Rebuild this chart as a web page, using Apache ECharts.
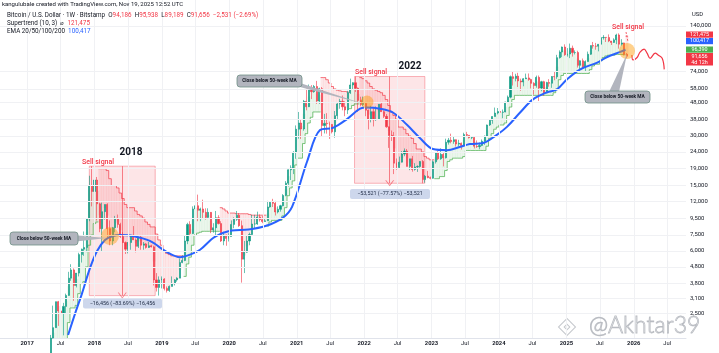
<!DOCTYPE html>
<html><head><meta charset="utf-8">
<script src="https://cdn.jsdelivr.net/npm/echarts@6/dist/echarts.min.js"></script>
<style>html,body{margin:0;padding:0;background:#fff}#c{width:719px;height:353px}</style>
</head><body><div id="c"></div>
<script>
// ---- DATA (biweekly bins, Bitstamp BTC/USD) ----
const binStart = '2017-04-03';
const binDays = 14;
const firstOpen = 1090;
const closes = [
1180,1350,1770,2050,2950,2590,2510,2760,3220,4100,4600,3700,4400,5700,6150,6300,9400,15000,13800,16200,
11600,8200,10400,11500,8200,6900,8300,9400,8700,7350,6750,6150,6750,7400,7000,6400,7300,6500,6620,6300,6450,6350,4000,3600,4000,4050,
3550,3450,3650,3800,4000,4100,5100,5250,6900,8700,7650,10800,11300,10600,10800,10300,9600,10300,8050,8300,9550,8800,6900,7500,7150,7350,
8700,9350,9900,8550,5350,5900,6900,7550,8750,8750,9650,9300,9050,9150,11100,11850,11700,10350,10750,11300,13050,15500,18700,19200,23850,33000,
36000,33100,48800,45200,59000,55800,60000,49000,58200,34700,35800,35600,35300,31800,39900,47000,48800,45200,43200,55000,61300,63300,58600,49400,46700,47300,
43100,37900,42200,37700,37800,46800,42200,39500,34100,30300,29900,20500,19300,20800,23300,24300,19600,21800,18800,19450,19550,21000,16300,17100,16750,16600,
20900,23700,21800,23200,22100,27500,28300,27800,28500,26800,27100,26300,30600,30300,29300,29400,26000,25850,26300,27900,29900,35000,37400,39400,41400,42300,
41800,42000,48300,51700,68900,67200,69400,64900,63900,66900,67700,66200,62700,60800,68200,58700,64200,54800,63400,62800,69000,68700,89900,97200,104300,93700,
94500,102600,96500,96600,80700,86100,78300,85100,94300,106400,105700,105500,108400,119000,119400,119300,113500,111200,115300,123500,108600,110500,94186,91656];
const highs = [
1250,1350,1850,2790,2950,2980,2700,2900,3300,4480,4980,4700,4400,5850,6200,7880,9500,17200,19666,17200,
16900,11800,11800,11500,11700,9200,8400,9800,9990,8900,7800,6850,6800,7500,8500,7150,7300,7400,6800,6700,6800,6550,6450,4400,4200,4200,
4100,3650,3700,4200,4050,4150,5400,5650,7500,8900,9100,11200,13800,13200,11000,12300,10900,10900,10350,8850,10500,9900,9100,7850,7550,7700,
9200,9600,10500,10200,9180,6900,7450,7750,9950,9950,10400,10000,9800,9450,12100,12000,12450,12100,11200,11450,13300,15950,18800,19900,24250,34800,
42000,38000,49700,58300,61700,61200,61300,64900,59000,59500,40900,41300,36700,35100,42600,48100,50500,52900,48800,56500,67000,63700,69000,59200,52000,52100,
47500,43500,45800,44800,45400,46900,48200,42900,40800,34200,32400,31700,21900,22500,24300,25200,25000,21800,22700,20500,19900,21100,21400,17400,18400,17000,
21300,23900,24250,25250,23900,28900,29200,31000,30000,28200,28450,27400,31400,31800,30300,30000,29700,28200,27400,28600,30200,35200,38000,39500,44700,44400,
48900,43500,48500,52900,70000,73800,71700,72700,67000,67500,71900,72000,66900,63800,69900,70000,65000,65000,64100,66500,69400,73600,93500,99600,105000,108300,
102700,109500,106400,99500,99000,86500,88800,86500,97900,106700,112000,110500,108900,119500,123200,120000,124500,113500,117900,125600,126300,116400,110800,95938];
const lows = [
1080,1170,1340,1760,2050,2100,2400,1840,2510,3200,3950,2980,3600,4200,5100,5600,5900,9100,11200,12000,
9200,7800,6000,9300,7300,6500,6500,7800,8300,7200,6700,5750,5800,6100,7000,5880,6250,6100,6100,6200,6250,6300,3700,3400,3210,3550,
3450,3350,3380,3650,3700,3900,4100,5050,5200,6600,7450,7600,9800,9100,9100,9500,9300,9550,7700,7750,7300,8700,6800,6500,6450,6850,
7350,8250,9150,8400,3850,4400,5850,6500,7500,8200,8650,9050,8850,9050,9150,11000,11100,9850,10150,10400,11200,12900,14800,16200,17600,21800,
28900,28800,32300,43000,45000,50300,55000,47000,47000,30000,31100,31000,28800,31100,29300,37500,43950,43000,39600,40800,54000,58000,55600,42000,45500,45700,
39600,32900,36300,34300,37100,37700,42100,38600,33700,25400,28000,17600,18700,18900,20700,22600,19600,18600,18200,18500,18150,19250,15479,15600,16600,16350,
16500,20400,21400,21500,19600,21900,26600,27100,26900,25900,25900,24800,26200,29700,29000,28700,25200,25400,24900,26000,26500,29800,34500,35600,39400,40600,
40700,38500,41800,48200,50900,60800,64500,59600,56500,60200,66600,65000,58400,53500,59000,49000,56100,52600,54600,59800,58900,65500,66800,88700,90500,92200,
91200,89300,91200,94000,78200,76600,77100,74500,85100,93400,102000,100400,98200,105200,115700,111900,111700,107300,110600,108600,102000,106300,93000,89189];
const supertrend = [
900,950,1000,1150,1500,1600,1700,1700,1750,2200,2700,2700,2800,3300,3800,3900,4800,6500,7500,8800,
9000,19000,19000,19000,18500,16500,15000,15000,14500,13500,12500,11500,11000,11000,11000,10500,10000,9800,9500,9000,8700,8400,8400,7600,7000,6500,
6000,5800,5700,5600,5600,5600,5600,5600,4200,5000,5500,6500,7500,7700,7800,7900,7900,7900,7900,7900,7900,7900,11000,10800,10500,10200,
10200,10200,10100,10100,10100,10100,10100,10000,9900,9900,9900,9900,9900,9900,8500,9000,9200,9200,9200,9200,9800,11000,13000,14500,16000,20000,
22000,22000,27000,31000,36000,39000,42000,42000,42000,68000,68000,66000,63000,60000,58000,57000,56500,56000,56000,55500,44000,46000,47000,47000,68000,67000,
65000,63000,60000,58000,57000,56000,55000,53000,50000,46000,42000,40000,38000,34000,34000,33000,31000,30000,29000,27000,25000,25000,24000,22500,22000,21500,
21500,16500,16500,17000,17000,18500,21000,21500,22000,22000,22000,22000,22500,24500,24500,24500,24500,24500,24500,24500,24500,26000,29000,31000,33000,34000,
35000,35000,36000,40000,45000,50000,53000,53000,53000,53000,53000,53000,53000,53000,53000,53000,53000,53000,53000,53000,53000,55000,58000,66000,70000,72000,
72000,72000,72000,72000,72000,72000,72000,72000,72000,76000,80000,82000,82000,86000,90000,92000,93000,93000,93000,94000,94000,94000,93500,121475];
const emaDates = ['2017-08-11','2017-09-18','2017-10-25','2017-12-07','2018-01-15','2018-02-27','2018-04-11','2018-05-19','2018-07-28','2018-10-28',
'2019-01-29','2019-04-10','2019-06-03','2019-07-27','2019-10-15','2020-01-15','2020-04-15','2020-07-15','2020-10-15','2020-12-07',
'2021-02-26','2021-05-07','2021-07-16','2021-09-30','2021-12-10','2022-01-17','2022-03-28','2022-06-06','2022-08-21','2022-10-30',
'2023-01-09','2023-03-26','2023-06-03','2023-07-28','2023-10-07','2023-12-21','2024-02-14','2024-04-25','2024-07-04','2024-09-18',
'2024-11-11','2025-01-05','2025-03-17','2025-06-17','2025-08-10','2025-10-20','2025-11-17'];
const emaValues = [1850,2500,3300,4700,6000,7000,7400,7500,7400,6900,
5900,5500,5700,6100,7300,8000,8100,8500,9500,11170,
21000,32600,33650,38000,44000,44700,44000,41700,35100,29200,
25000,24600,25700,26800,27200,30500,34100,41700,50100,55300,
57700,66500,76400,83900,90700,97400,100417];
const projDates = ['2025-12-22','2025-12-28','2026-01-19','2026-02-04','2026-02-26','2026-03-14','2026-03-31','2026-04-27','2026-05-13','2026-06-04','2026-06-15'];
const projPrices = [93300,87000,90100,97100,101300,95800,89000,95800,93300,89000,76300];
const priceTicks = [2500,3100,3800,4800,6000,7500,9500,12000,15000,19000,24000,30000,38000,48000,58000,74000,140000];
const timeTicks = ['2017-01-01','2017-07-01','2018-01-01','2018-07-01','2019-01-01','2019-07-01','2020-01-01','2020-07-01','2021-01-01','2021-07-01',
'2022-01-01','2022-07-01','2023-01-01','2023-07-01','2024-01-01','2024-07-01','2025-01-01','2025-07-01','2026-01-01','2026-07-01'];
const ranges = [
  {from:'2017-12-04', to:'2018-11-26', top:19666, bottom:3210, label:'\u221216,456 (\u221283.69%) \u221216,456'},
  {from:'2021-11-10', to:'2022-11-26', top:69000, bottom:15479, label:'\u221253,521 (\u221277.57%) \u221253,521'}
];

// ---- BUILD ----
const DAY = 86400000;
const t0s = closes.map((_, i) => Date.parse(binStart) + i * binDays * DAY);
const opens = closes.map((c, i) => i === 0 ? firstOpen : closes[i - 1]);
const candleData = closes.map((c, i) => [t0s[i] + 7 * DAY, opens[i], c, lows[i], highs[i]]);
const stData = supertrend.map((s, i) => {
  const up = s < closes[i] ? 1 : 0;
  let prev = -1;
  if (i > 0) { const pu = supertrend[i - 1] < closes[i - 1] ? 1 : 0; if (pu === up) prev = supertrend[i - 1]; }
  return [t0s[i], t0s[i] + binDays * DAY, s, (opens[i] + closes[i]) / 2, up, prev];
});
const emaData = emaDates.map((d, i) => [Date.parse(d), emaValues[i]]);
const projData = projDates.map((d, i) => [Date.parse(d), projPrices[i]]);
const fmt = v => Math.round(v).toLocaleString('en-US');
const FONT = 'Roboto';
const chevron = 'path://M0,10L5,0L10,10L8.8,10L5,2.4L1.2,10Z';

const chart = echarts.init(document.getElementById('c'), null, {renderer:'canvas'});

const graphics = [];
function T(x, y, text, o) { graphics.push({type:'text', x, y, z:100, silent:true, style:Object.assign({text, fontFamily:FONT, fontSize:6, fill:'#131722', verticalAlign:'middle', align:'left'}, o || {})}); }
function R(x, y, w, h, fill, o) { graphics.push({type:'rect', z:99, silent:true, shape:{x, y, width:w, height:h, r:(o&&o.r)||0}, style:Object.assign({fill}, (o&&o.style)||{})}); }
function PG(points, fill, z) { graphics.push({type:'polygon', z:z||98, silent:true, shape:{points}, style:{fill}}); }
function C(cx, cy, r, fill) { graphics.push({type:'circle', z:97, silent:true, shape:{cx, cy, r}, style:{fill}}); }

// header
const HF = 6.3;
T(2, 4, 'kangulubale created with TradingView.com, Nov 19, 2025 12:52 UTC', {fontSize:6});
T(7, 15, 'Bitcoin / U.S. Dollar \u00b7 1W \u00b7 Bitstamp  O{r|94,186}  H{r|95,938}  L{r|89,189}  C{r|91,656}  {r|\u22122,531 (\u22122.69%)}', {fontSize:HF, rich:{r:{fill:'#f23645', fontSize:HF, fontFamily:FONT}}});
T(7, 23, 'Supertrend (10, 3)  \u2300  {r|121,475}', {fontSize:HF, rich:{r:{fill:'#f23645', fontSize:HF, fontFamily:FONT}}});
T(7, 31, 'EMA 20/50/100/200  {b|100,417}', {fontSize:HF, rich:{b:{fill:'#2962ff', fontSize:HF, fontFamily:FONT}}});
T(692, 15, 'USD', {fontSize:5.8});

// price badges
R(686, 31.5, 27, 6.2, '#f23645'); T(699.5, 34.6, '121,475', {fill:'#fff', fontSize:5.4, align:'center'});
R(686, 38, 27, 6.2, '#2962ff'); T(699.5, 41.1, '100,417', {fill:'#fff', fontSize:5.4, align:'center'});
R(686, 46.5, 27, 6.2, '#4caf50'); T(699.5, 49.6, '96,390', {fill:'#fff', fontSize:5.4, align:'center'});
R(686, 53, 27, 12.5, '#f23645'); T(699.5, 56.3, '91,656', {fill:'#fff', fontSize:5.4, align:'center'}); T(699.5, 62.3, '4d 12h', {fill:'#fff', fontSize:5.4, align:'center'});

// annotations
T(98, 162, 'Sell signal', {fill:'#f23645', fontSize:7, align:'center', fontWeight:500});
T(131, 152, '2018', {fontSize:10, fontWeight:'bold', align:'center'});
T(371, 72, 'Sell signal', {fill:'#f23645', fontSize:7, align:'center', fontWeight:500});
T(410, 66, '2022', {fontSize:10, fontWeight:'bold', align:'center'});
T(628, 27, 'Sell signal', {fill:'#f23645', fontSize:7, align:'center', fontWeight:500});
graphics.push({type:'line', z:97, silent:true, shape:{x1:626, y1:32, x2:628, y2:42}, style:{stroke:'#f23645', lineWidth:0.8, lineDash:[2,1.5]}});

// orange circles
C(110, 236, 9, 'rgba(255,152,0,0.42)');
C(367, 102, 6.5, 'rgba(255,152,0,0.45)');
C(627, 51, 8, 'rgba(255,152,0,0.45)');
// callouts
const calloutStyle = {r:3, style:{stroke:'#6f8f85', lineWidth:0.8}};
PG([[76,235.5],[76,241.5],[107,238]], '#b2b5be');
R(10, 232, 68, 13, '#b2b5be', calloutStyle); T(44, 238.5, 'Close below 50-week MA', {fontSize:4.8, fontWeight:'bold', align:'center'});
PG([[294,81],[298,86.5],[364,104]], '#b2b5be');
R(237, 75, 65, 12, '#b2b5be', calloutStyle); T(269.5, 81, 'Close below 50-week MA', {fontSize:4.8, fontWeight:'bold', align:'center'});
PG([[609,92],[619,92],[627,54]], '#b2b5be');
R(585, 91, 65, 12, '#b2b5be', calloutStyle); T(617.5, 97, 'Close below 50-week MA', {fontSize:4.8, fontWeight:'bold', align:'center'});

// range labels
R(83, 298.5, 79, 10, '#cdd7ec', {r:2}); T(122.5, 303.5, ranges[0].label, {fontSize:5.4, align:'center', fill:'#1e2a44'});
R(350, 189, 80, 10, '#cdd7ec', {r:2}); T(390, 194, ranges[1].label, {fontSize:5.4, align:'center', fill:'#1e2a44'});

// watermark
graphics.push({type:'group', z:95, silent:true, children:[
  {type:'rect', shape:{x:-6, y:-6, width:12, height:12}, x:567, y:327, rotation:Math.PI/4, style:{fill:'none', stroke:'#c4c7cc', lineWidth:1}},
  {type:'rect', shape:{x:-2, y:-2, width:4, height:4}, x:567, y:327, rotation:Math.PI/4, style:{fill:'none', stroke:'#c4c7cc', lineWidth:1}}
]});
T(589, 326, '@Akhtar39', {fontSize:23, fontWeight:300, fill:'rgba(255,255,255,0)', stroke:'#b9bcc2', lineWidth:0.8, fontFamily:'Lato'});

const option = {
  animation:false,
  backgroundColor:'#ffffff',
  grid:{left:0, right:33, top:0, bottom:15},
  xAxis:{type:'time', min:Date.parse('2016-08-07'), max:Date.parse('2026-10-11'),
    axisLabel:{show:false}, axisTick:{show:false}, splitLine:{show:false},
    axisLine:{show:true, lineStyle:{color:'#e0e3eb', width:1}}},
  yAxis:{type:'log', position:'right', min:1773, max:201500, axisLabel:{show:false}, axisTick:{show:false},
    splitLine:{show:false}, axisLine:{show:false}},
  series:[
    {type:'line', name:'grid', data:[], z:0, silent:true,
      markLine:{silent:true, symbol:'none', animation:false,
        lineStyle:{color:'#f0f1f4', width:1, type:'solid'},
        label:{position:'end', distance:4, fontSize:5.9, fontFamily:FONT, color:'#131722', formatter:p => fmt(p.value)},
        data:priceTicks.map(v => ({yAxis:v}))}},
    {type:'line', name:'vgrid', data:[], z:0, silent:true,
      markLine:{silent:true, symbol:'none', animation:false,
        lineStyle:{color:'#f0f1f4', width:1, type:'solid'},
        label:{position:'start', distance:3, fontSize:5.8, fontFamily:FONT, color:'#131722',
          formatter:p => { const d = new Date(p.value); return d.getUTCMonth() === 0 ? '{y|' + d.getUTCFullYear() + '}' : '{m|Jul}'; },
          rich:{y:{fontWeight:'bold', fontSize:5.8, fontFamily:FONT, color:'#131722'}, m:{fontSize:5.8, fontFamily:FONT, color:'#131722'}}},
        data:timeTicks.map(d => ({xAxis:Date.parse(d)}))}},
    {type:'custom', name:'Supertrend', z:1, clip:true, data:stData, encode:{x:[0,1], y:[2,3]},
      renderItem:(params, api) => {
        const a = api.coord([api.value(0), api.value(2)]);
        const b = api.coord([api.value(1), api.value(3)]);
        const up = api.value(4) === 1;
        const prev = api.value(5);
        const fill = up ? 'rgba(76,175,80,0.11)' : 'rgba(242,54,69,0.12)';
        const stroke = up ? 'rgba(76,175,80,0.8)' : 'rgba(242,54,69,0.75)';
        const ch = [
          {type:'rect', shape:{x:a[0], y:Math.min(a[1], b[1]), width:b[0] - a[0] + 0.4, height:Math.abs(b[1] - a[1])}, style:{fill}},
          {type:'line', shape:{x1:a[0], y1:a[1], x2:b[0], y2:a[1]}, style:{stroke, lineWidth:0.9}}
        ];
        if (prev > 0) { const p = api.coord([api.value(0), prev]); ch.push({type:'line', shape:{x1:a[0], y1:p[1], x2:a[0], y2:a[1]}, style:{stroke, lineWidth:0.9}}); }
        return {type:'group', children:ch};
      }},
    {type:'line', name:'ranges', data:[], z:2, silent:true,
      markArea:{silent:true, itemStyle:{color:'rgba(242,54,69,0.13)', borderColor:'rgba(242,54,69,0.45)', borderWidth:0.8},
        data:ranges.map(r => [{xAxis:Date.parse(r.from), yAxis:r.top}, {xAxis:Date.parse(r.to), yAxis:r.bottom}])},
      markLine:{silent:true, animation:false, lineStyle:{color:'rgba(242,54,69,0.6)', width:1, type:'solid'}, label:{show:false},
        data:ranges.map(r => { const m = (Date.parse(r.from) + Date.parse(r.to)) / 2; return [{coord:[m, r.top], symbol:'none'}, {coord:[m, r.bottom], symbol:chevron, symbolSize:[9, 6]}]; })}},
    {type:'candlestick', name:'BTCUSD', z:3, data:candleData, barWidth:1.6, clip:true,
      itemStyle:{color:'#089981', color0:'#f23645', borderColor:'#089981', borderColor0:'#f23645', borderWidth:0.6}},
    {type:'line', name:'EMA 50', z:4, data:emaData, smooth:0.35, showSymbol:false, clip:true,
      lineStyle:{color:'#2962ff', width:2}},
    {type:'line', name:'projection', z:4, data:projData, smooth:0.4, showSymbol:false, clip:true,
      lineStyle:{color:'#f23645', width:1.2}}
  ],
  graphic:{elements:graphics}
};
chart.setOption(option);
</script></body></html>
